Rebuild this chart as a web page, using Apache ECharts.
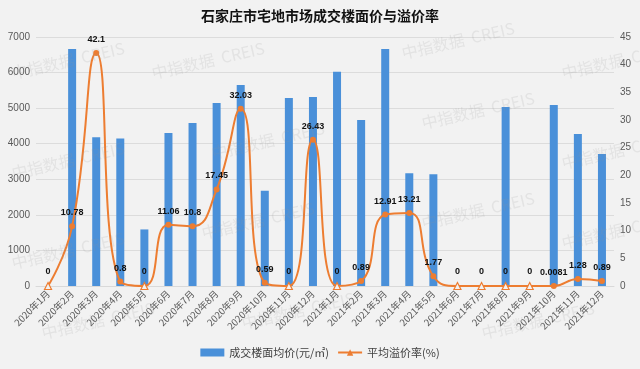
<!DOCTYPE html>
<html><head><meta charset="utf-8">
<script src="https://cdn.jsdelivr.net/npm/echarts@6/dist/echarts.min.js"></script>
<style>html,body{margin:0;padding:0;background:#f2f2f2}#c{width:640px;height:369px}</style>
</head><body><div id="c"></div>
<script>
const categories = ['2020年1月','2020年2月','2020年3月','2020年4月','2020年5月','2020年6月','2020年7月','2020年8月','2020年9月','2020年10月','2020年11月','2020年12月','2021年1月','2021年2月','2021年3月','2021年4月','2021年5月','2021年6月','2021年7月','2021年8月','2021年9月','2021年10月','2021年11月','2021年12月'];
const avgPrice = [0,6660,4180,4150,1590,4300,4580,5145,5650,2680,5285,5310,6020,4670,6660,3170,3140,0,0,5035,0,5085,4270,3710];
const premiumRate = [0,10.78,42.1,0.8,0,11.06,10.8,17.45,32.03,0.59,0,26.43,0,0.89,12.91,13.21,1.77,0,0,0,0,0.0081,1.28,0.89];
const leftTicks = [0,1000,2000,3000,4000,5000,6000,7000];
const rightTicks = [0,5,10,15,20,25,30,35,40,45];

const chart = echarts.init(document.getElementById('c'));
const wm = [];
const wmPos = [[10,40],[150,40],[400,20],[560,40],[10,140],[210,120],[420,90],[560,130],[10,230],[200,200],[420,190],[560,210],[40,300],[240,290],[480,300]];
wmPos.forEach(p => wm.push({type:'text', left:p[0], top:p[1], rotation:Math.PI/14, z:100,
  style:{text:'中指数据  CREIS', fill:'rgba(150,150,150,0.16)', font:'16px "Noto Sans CJK SC"'}}));
chart.setOption({
  backgroundColor:'#f2f2f2',
  animation:false,
  title:{text:'石家庄市宅地市场成交楼面价与溢价率', left:'center', top:4,
    textStyle:{fontSize:14, fontWeight:'bold', color:'#111', fontFamily:'"Noto Sans CJK SC"'}},
  graphic: wm,
  legend:{bottom:6, itemGap:8, textStyle:{fontSize:11, color:'#404040', fontFamily:'"Noto Sans CJK SC"'},
    data:[{name:'成交楼面均价(元/㎡)', icon:'rect'}, {name:'平均溢价率(%)'}],
    itemWidth:24, itemHeight:8},
  grid:{left:36, right:26, top:37, bottom:83},
  xAxis:{type:'category', data:categories, axisTick:{show:false},
    axisLine:{lineStyle:{color:'#d9d9d9'}},
    axisLabel:{rotate:45, fontSize:9.5, color:'#595959', interval:0, margin:6, fontFamily:'"Noto Sans CJK SC"'}},
  yAxis:[
    {type:'value', min:0, max:7000, interval:1000, axisLine:{show:false}, axisTick:{show:false},
     splitLine:{lineStyle:{color:'#dcdcdc'}}, axisLabel:{fontSize:10, color:'#595959', margin:6, formatter:v=>String(v)}},
    {type:'value', min:0, max:45, interval:5, axisLine:{show:false}, axisTick:{show:false},
     splitLine:{show:false}, axisLabel:{fontSize:10, color:'#595959', margin:6}}
  ],
  series:[
    {name:'成交楼面均价(元/㎡)', type:'bar', data:avgPrice, barWidth:8, itemStyle:{color:'#4a90d9'}},
    {name:'平均溢价率(%)', type:'line', yAxisIndex:1, smooth:0.5, symbol:'triangle', symbolSize:7,
     data:premiumRate.map(v=>({
        value:v, symbol: v===0?'triangle':'circle', symbolSize: v===0?7:6,
        itemStyle: v===0?{color:'#f2f2f2', borderColor:'#ed7d31', borderWidth:1.2}:{color:'#ed7d31'}})),
     lineStyle:{color:'#ed7d31', width:2}, itemStyle:{color:'#ed7d31'},
     label:{show:true, position:'top', distance:6, fontSize:9, fontWeight:'bold', color:'#111'}}
  ]
});
</script></body></html>
